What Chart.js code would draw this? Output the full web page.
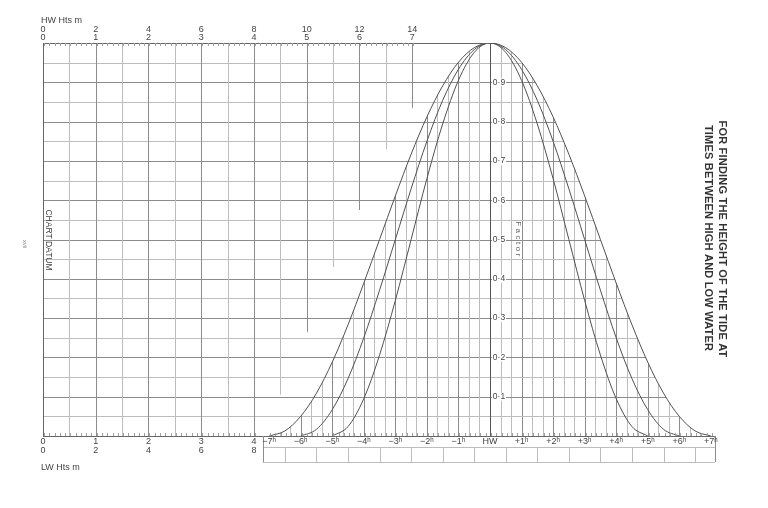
<!DOCTYPE html>
<html>
<head>
<meta charset="utf-8">
<title>Tidal curve</title>
<style>
    html, body { margin: 0; padding: 0; background: #fff; }
    canvas { display: block; }
</style>
<script src="https://cdn.jsdelivr.net/npm/chart.js@4.4.1/dist/chart.umd.min.js"></script>
</head>
<body>
<canvas id="chart" width="768" height="508"></canvas>
<script>
// Curves: hours from HW, factor 0..1
var hours = [-7, -6.5, -6, -5.5, -5, -4.5, -4, -3.5, -3, -2.5, -2, -1.5, -1, -0.5, 0, 0.5, 1, 1.5, 2, 2.5, 3, 3.5, 4, 4.5, 5, 5.5, 6, 6.5, 7];
var curve7h = [0, 0.013, 0.05, 0.109, 0.188, 0.283, 0.389, 0.5, 0.611, 0.717, 0.812, 0.891, 0.951, 0.988, 1, 0.988, 0.951, 0.891, 0.812, 0.717, 0.611, 0.5, 0.389, 0.283, 0.188, 0.109, 0.05, 0.013, 0];
var curve6h = [null, null, 0, 0.017, 0.067, 0.146, 0.25, 0.371, 0.5, 0.629, 0.75, 0.854, 0.933, 0.983, 1, 0.983, 0.933, 0.854, 0.75, 0.629, 0.5, 0.371, 0.25, 0.146, 0.067, 0.017, 0, null, null];
var curve5h = [null, null, null, null, 0, 0.024, 0.095, 0.206, 0.345, 0.5, 0.655, 0.794, 0.905, 0.976, 1, 0.976, 0.905, 0.794, 0.655, 0.5, 0.345, 0.206, 0.095, 0.024, 0, null, null, null, null];

// Tick labels
var hourTicks = [-7, -6, -5, -4, -3, -2, -1, 0, 1, 2, 3, 4, 5, 6, 7];
var hourLabels = ['\u22127\u02b0', '\u22126\u02b0', '\u22125\u02b0', '\u22124\u02b0', '\u22123\u02b0', '\u22122\u02b0', '\u22121\u02b0', 'HW', '+1\u02b0', '+2\u02b0', '+3\u02b0', '+4\u02b0', '+5\u02b0', '+6\u02b0', '+7\u02b0'];
var factorTicks = [0.1, 0.2, 0.3, 0.4, 0.5, 0.6, 0.7, 0.8, 0.9];
var factorLabels = ['0\u00b71', '0\u00b72', '0\u00b73', '0\u00b74', '0\u00b75', '0\u00b76', '0\u00b77', '0\u00b78', '0\u00b79'];
var hwTopA = [0, 2, 4, 6, 8, 10, 12, 14];
var hwTopB = [0, 1, 2, 3, 4, 5, 6, 7];
var lwBotA = [0, 1, 2, 3, 4];
var lwBotB = [0, 2, 4, 6, 8];

// HW height lines hanging from the top, and the factor where each stops
var stepHts = [9, 10, 11, 12, 13, 14];
var stepFactors = [0.105, 0.265, 0.43, 0.575, 0.73, 0.835];

// box under the time axis, edges in hours
var cellEdges = [-7.2, -6.5, -5.5, -4.5, -3.5, -2.5, -1.5, -0.5, 0.5, 1.5, 2.5, 3.5, 4.5, 5.5, 6.5, 7.13];

var MINOR = '#bdbdbd', MAJOR = '#8c8c8c', DARK = '#666', TEXT = '#444';
var FONT = '"Liberation Sans", Arial, sans-serif';

function ln(ctx, x1, y1, x2, y2, col) {
    ctx.beginPath();
    ctx.strokeStyle = col;
    ctx.lineWidth = 1;
    if (x1 === x2) { x1 = x2 = Math.round(x1) + 0.5; }
    if (y1 === y2) { y1 = y2 = Math.round(y1) + 0.5; }
    ctx.moveTo(x1, y1);
    ctx.lineTo(x2, y2);
    ctx.stroke();
}

function vText(ctx, str, x, y, font, col, spacing) {
    ctx.save();
    ctx.translate(x, y);
    ctx.rotate(Math.PI / 2);
    ctx.font = font;
    ctx.fillStyle = col;
    ctx.textAlign = 'center';
    ctx.textBaseline = 'middle';
    if (spacing) ctx.letterSpacing = spacing;
    ctx.fillText(str, 0, 0);
    ctx.restore();
}

var tideGrid = {
    id: 'tideGrid',
    beforeDatasetsDraw: function (chart) {
        var ctx = chart.ctx, sx = chart.scales.x, sm = chart.scales.xm, sy = chart.scales.y;
        var top = sy.getPixelForValue(1), base = sy.getPixelForValue(0);
        var left = sm.getPixelForValue(0), hw = sx.getPixelForValue(0);
        var k, yy, px;
        ctx.save();

        // horizontal grid, left of HW
        for (k = 1; k < 20; k++) {
            yy = sy.getPixelForValue(k / 20);
            ln(ctx, left, yy, hw, yy, k % 2 ? MINOR : MAJOR);
        }
        // height panel verticals every half metre (LW)
        for (k = 1; k <= 8; k++) {
            px = sm.getPixelForValue(k);
            ln(ctx, px, top, px, base, k % 2 ? MINOR : MAJOR);
        }
        // HW height lines hanging from the top
        stepHts.forEach(function (h, i) {
            px = sm.getPixelForValue(h);
            ln(ctx, px, top, px, sy.getPixelForValue(stepFactors[i]), h % 2 ? MINOR : MAJOR);
        });

        // area under the widest curve
        var meta = chart.getDatasetMeta(0);
        var pts = meta.data;
        ctx.save();
        ctx.beginPath();
        if (meta.dataset && meta.dataset.path && meta.dataset.updateControlPoints) {
            meta.dataset.updateControlPoints(chart.chartArea, 'x');
            meta.dataset.path(ctx);
        } else {
            pts.forEach(function (p, i) { if (i) ctx.lineTo(p.x, p.y); else ctx.moveTo(p.x, p.y); });
        }
        ctx.lineTo(pts[pts.length - 1].x, base);
        ctx.lineTo(pts[0].x, base);
        ctx.closePath();
        ctx.clip();
        // verticals every 20 minutes
        for (k = -21; k <= 21; k++) {
            if (k === 0) continue;
            px = sx.getPixelForValue(k / 3);
            ln(ctx, px, base, px, top, k % 3 ? MINOR : MAJOR);
        }
        // horizontals right of HW
        for (k = 1; k < 20; k++) {
            yy = sy.getPixelForValue(k / 20);
            ln(ctx, hw, yy, sx.getPixelForValue(7.2), yy, k % 2 ? MINOR : MAJOR);
        }
        ctx.restore();
        ctx.restore();
    },
    afterDatasetsDraw: function (chart) {
        var ctx = chart.ctx, sx = chart.scales.x, sm = chart.scales.xm, sy = chart.scales.y;
        var top = sy.getPixelForValue(1), base = sy.getPixelForValue(0);
        var left = sm.getPixelForValue(0), hw = sx.getPixelForValue(0);
        var right = sx.getPixelForValue(cellEdges[cellEdges.length - 1]);
        var boxL = sx.getPixelForValue(cellEdges[0]);
        var k, px;
        ctx.save();

        // frame
        ln(ctx, left, top, hw, top, DARK);
        ln(ctx, left, top, left, base, DARK);
        ln(ctx, hw, top, hw, base, '#555');
        ln(ctx, left, base, right, base, DARK);

        // small ticks
        for (k = 0; k <= 70; k++) {
            px = Math.round(sm.getPixelForValue(k * 0.2)) + 0.5;
            ln(ctx, px, top, px, top + 3, '#a0a0a0');
        }
        for (k = 0; k <= 40; k++) {
            px = Math.round(sm.getPixelForValue(k * 0.2)) + 0.5;
            ln(ctx, px, base - 3, px, base, '#a0a0a0');
        }
        for (k = -42; k <= 42; k++) {
            px = Math.round(sx.getPixelForValue(k / 6)) + 0.5;
            ln(ctx, px, base - 3, px, base, '#a0a0a0');
        }

        // box under the time axis
        ln(ctx, boxL, base + 11, right, base + 11, MINOR);
        ln(ctx, boxL, base + 26, right, base + 26, MINOR);
        cellEdges.forEach(function (h, i) {
            var edge = i === 0 || i === cellEdges.length - 1;
            px = sx.getPixelForValue(h);
            ln(ctx, px, edge ? base : base + 11, px, base + 26, edge ? MAJOR : MINOR);
        });

        ctx.fillStyle = TEXT;
        ctx.font = '9px ' + FONT;
        ctx.textAlign = 'center';
        ctx.textBaseline = 'middle';

        // time labels
        hourTicks.forEach(function (h, i) {
            ctx.fillText(hourLabels[i], sx.getPixelForValue(h), base + 6);
        });

        // height labels, top and bottom
        hwTopA.forEach(function (v) { ctx.fillText(String(v), sm.getPixelForValue(v), 29.5); });
        hwTopB.forEach(function (v) { ctx.fillText(String(v), sm.getPixelForValue(v * 2), 38); });
        lwBotA.forEach(function (v) { ctx.fillText(String(v), sm.getPixelForValue(v * 2), base + 6); });
        lwBotB.forEach(function (v) { ctx.fillText(String(v), sm.getPixelForValue(v), base + 14.5); });
        ctx.textAlign = 'left';
        ctx.fillText('HW Hts m', left - 2, 21);
        ctx.fillText('LW Hts m', left - 2, base + 32);

        // factor labels beside the HW line
        ctx.textAlign = 'center';
        ctx.font = '8.5px ' + FONT;
        factorTicks.forEach(function (f, i) {
            var yy = sy.getPixelForValue(f);
            ctx.fillStyle = '#fff';
            ctx.fillRect(hw + 2, yy - 4, 14, 8);
            ctx.fillStyle = TEXT;
            ctx.fillText(factorLabels[i], hw + 9, yy);
        });

        // vertical texts
        vText(ctx, 'Factor', hw + 28, 240, '8px ' + FONT, '#666', '2.5px');
        vText(ctx, 'CHART DATUM', left + 5, 240, '8.5px ' + FONT, TEXT);
        vText(ctx, 'xvii', 25, 244, '6px ' + FONT, '#888');
        vText(ctx, 'FOR FINDING THE HEIGHT OF THE TIDE AT', 722, 239, 'bold 11px ' + FONT, '#333', '0.2px');
        vText(ctx, 'TIMES BETWEEN HIGH AND LOW WATER', 708, 238, 'bold 11px ' + FONT, '#333', '0.2px');
        ctx.restore();
    }
};

function series(values) {
    return hours.map(function (h, i) { return { x: h, y: values[i] }; });
}

var chart = new Chart(document.getElementById('chart'), {
    type: 'line',
    data: {
        datasets: [
            { label: '7h', data: series(curve7h) },
            { label: '6h', data: series(curve6h) },
            { label: '5h', data: series(curve5h) }
        ]
    },
    options: {
        responsive: false,
        animation: false,
        layout: { padding: { left: 43, top: 43, right: 53, bottom: 72 } },
        plugins: { legend: { display: false }, tooltip: { enabled: false } },
        elements: {
            point: { radius: 0 },
            line: { borderWidth: 1, borderColor: '#505050', cubicInterpolationMode: 'monotone', fill: false }
        },
        scales: {
            x: { type: 'linear', position: 'bottom', min: -14.168, max: 7.132, display: false },
            xm: { type: 'linear', axis: 'x', position: 'bottom', min: 0, max: 25.479, display: false },
            y: { type: 'linear', min: 0, max: 1, display: false }
        }
    },
    plugins: [tideGrid]
});
</script>
</body>
</html>
